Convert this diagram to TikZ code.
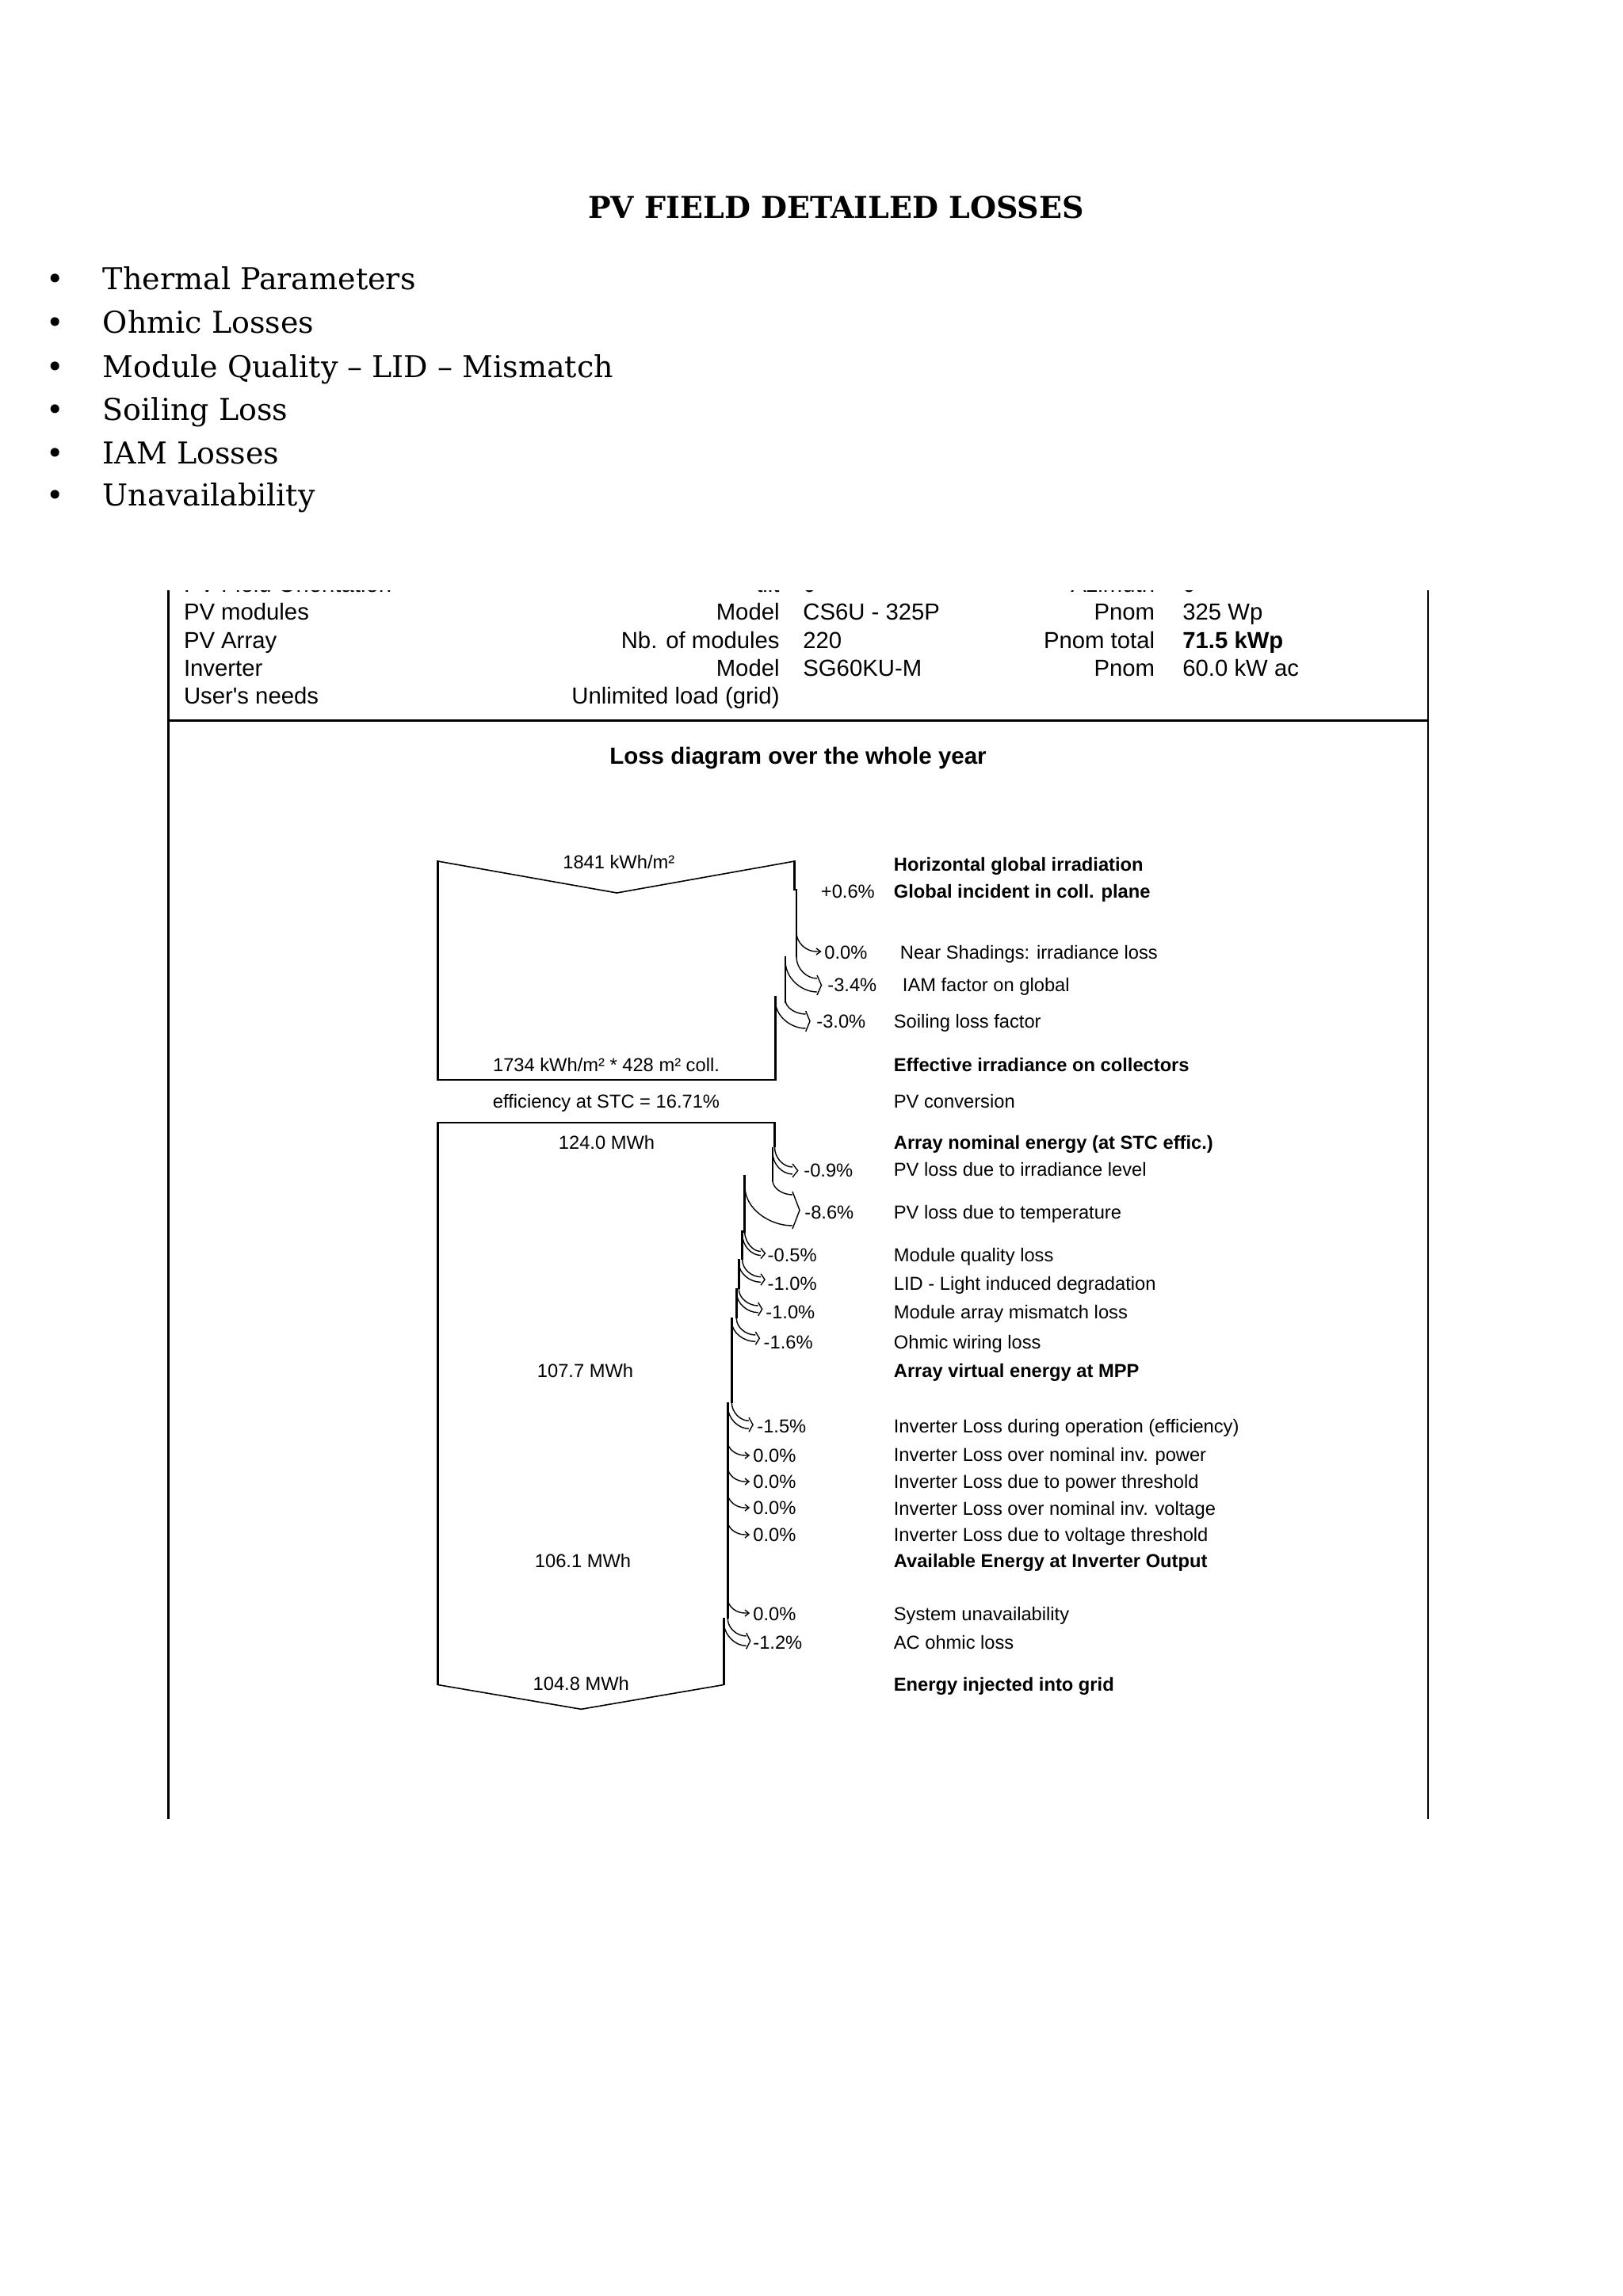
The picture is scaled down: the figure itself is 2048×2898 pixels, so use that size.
\documentclass[tikz,border=0pt]{standalone}
\usepackage{fontspec}
\setmainfont{DejaVu Serif}
\newfontfamily\arialf{Liberation Sans}
\newcommand\fdiag{\arialf\fontsize{11.85}{14}\selectfont}
\newcommand\fhead{\arialf\fontsize{14.65}{17}\selectfont}
\newcommand\fttl{\arialf\bfseries\fontsize{14.75}{17}\selectfont}
\newcommand\fdoc{\fontsize{19}{23}\selectfont}
\newcommand\lossband[8]{%
  \draw[flow] (#1,#2) .. controls (#1,{#2+0.55*(#6-#2)}) and ({#5-0.5*(#5-#1)},#6) .. (#5,#6);
  \draw[flow] (#3,#4) .. controls (#3,{#4+0.55*(#7-#4)}) and ({#5-0.5*(#5-#3)},#7) .. (#5,#7);
  \draw[flow] (#5,{#6-4}) -- (#8,{(#6+#7)/2}) -- (#5,{#7+4});
}
\newcommand\losszero[5]{%
  \draw[flow] (#1,#2) .. controls (#1,{#2+0.55*(#4-#2)}) and ({#3-0.5*(#3-#1)},#4) .. (#3,#4) -- (#5,#4);
  \draw[flow] (#3,{#4-4}) -- (#5,#4) -- (#3,{#4+4});
}
\begin{document}
\begin{tikzpicture}[x=0.5pt,y=-0.5pt,
  lbl/.style={anchor=base west,inner sep=0pt,font=\fdiag},
  blbl/.style={anchor=base west,inner sep=0pt,font=\fdiag\bfseries},
  val/.style={anchor=base,inner sep=0pt,font=\fdiag},
  hl/.style={anchor=base west,inner sep=0pt,font=\fhead},
  hr/.style={anchor=base east,inner sep=0pt,font=\fhead},
  doc/.style={anchor=base west,inner sep=0pt,font=\fdoc},
  frame/.style={line width=1.1pt},
  edge/.style={line width=1.4pt},
  vedge/.style={line width=0.8pt},
  flow/.style={line width=0.7pt}]
\useasboundingbox (0,0) rectangle (2048,2898);
\fill[white] (0,0) rectangle (2048,2898);

% ---- document text
\node[anchor=base,inner sep=0pt,font=\fdoc\bfseries] (title) at (1055,275) {PV FIELD DETAILED LOSSES};
\foreach \yy/\txt [count=\i] in {365.5/Thermal Parameters,420/Ohmic Losses,476/Module Quality – LID – Mismatch,530.7/Soiling Loss,585/IAM Losses,638/Unavailability}{
  \node[anchor=base,inner sep=0pt,font=\fdoc] (bul\i) at (70,\yy) {•};
  \node[doc] (item\i) at (129.5,\yy) {\txt};
}

% ---- frame
\draw[frame] (212.5,745) -- (212.5,2296);
\draw[frame] (1802,745) -- (1802,2296);
\draw[line width=1.5pt] (212.5,909) -- (1802,909);

% ---- header table (cut first row)
\begin{scope}
\clip (214,745.5) rectangle (1800,770);
\node[hl] (h0a) at (231.6,747) {PV Field Orientation};
\node[hr] (h0b) at (984,747) {tilt};
\node[hl] (h0c) at (1013,747) {0};
\node[hr] (h0d) at (1457.5,747) {Azimuth};
\node[hl] (h0e) at (1492,747) {0°};
\end{scope}
\node[hl] (h1a) at (231.6,782.5) {PV modules};
\node[hr] (h1b) at (984,782.5) {Model};
\node[hl] (h1c) at (1013,782.5) {CS6U - 325P};
\node[hr] (h1d) at (1457.5,782.5) {Pnom};
\node[hl] (h1e) at (1492,782.5) {325 Wp};
\node[hl] (h2a) at (231.6,818.5) {PV Array};
\node[hr] (h2b) at (984,818.5) {Nb. of modules};
\node[hl] (h2c) at (1013,818.5) {220};
\node[hr] (h2d) at (1457.5,818.5) {Pnom total};
\node[hl,font=\fhead\bfseries] (h2e) at (1492,818.5) {71.5 kWp};
\node[hl] (h3a) at (231.6,853.5) {Inverter};
\node[hr] (h3b) at (984,853.5) {Model};
\node[hl] (h3c) at (1013,853.5) {SG60KU-M};
\node[hr] (h3d) at (1457.5,853.5) {Pnom};
\node[hl] (h3e) at (1492,853.5) {60.0 kW ac};
\node[hl] (h4a) at (231.6,888.5) {User's needs};
\node[hr] (h4b) at (984,888.5) {Unlimited load (grid)};

\node[anchor=base,inner sep=0pt,font=\fttl] (ldtitle) at (1007,964.5) {Loss diagram over the whole year};

% ---- box 1
\draw[vedge] (552.5,1087) -- (778.3,1127) -- (1002.7,1087);
\draw[edge] (552.5,1086.3) -- (552.5,1363) -- (978.3,1363) -- (978.3,1257);
\draw[edge] (1002.7,1086.3) -- (1002.7,1123) -- (1005,1123) -- (1005,1208);
\draw[edge] (991,1207) -- (991,1266);
\losszero{1005}{1177}{1030}{1201}{1035.5}
\lossband{1005}{1208}{991}{1213}{1031}{1235}{1252}{1036.5}
\lossband{991}{1262}{978.3}{1263}{1016.7}{1280}{1298}{1022}

% ---- box 2
\draw[edge] (552.5,2126.5) -- (552.5,1417) -- (977.5,1417) -- (977.5,1448);
\draw[edge] (975,1448) -- (975,1492);
\draw[edge] (939.5,1483) -- (939.5,1556);
\draw[edge] (936.7,1553) -- (936.7,1590);
\draw[edge] (932.3,1589) -- (932.3,1627);
\draw[edge] (929.3,1626) -- (929.3,1664);
\draw[edge] (923.3,1663) -- (923.3,1771);
\draw[edge] (918.3,1770) -- (918.3,2043);
\draw[edge] (913.3,2042) -- (913.3,2127.2);
\draw[vedge] (552.5,2126.5) -- (733.3,2157.3) -- (913.3,2126.5);
\lossband{977.5}{1448}{975}{1455}{1000}{1473}{1482}{1006.7}
\lossband{975}{1490}{940}{1498}{1000}{1508}{1547}{1009}
\lossband{939.5}{1553}{936.7}{1558}{960}{1579.5}{1584.5}{965.5}
\lossband{936.7}{1590}{932.3}{1594}{960}{1611.7}{1618.3}{965}
\lossband{932.3}{1627}{929.3}{1631}{956.7}{1648}{1656.7}{961.7}
\lossband{929.3}{1664}{923.3}{1668}{953.3}{1685}{1693.3}{958.3}
\lossband{923.3}{1770}{918.3}{1775}{945}{1793.3}{1803.3}{950}
\losszero{918.3}{1820}{940}{1837}{945}
\losszero{918.3}{1852}{940}{1870}{945}
\losszero{918.3}{1885}{940}{1903}{945}
\losszero{918.3}{1920}{940}{1937}{945}
\losszero{918.3}{2018}{940}{2036}{945}
\lossband{918.3}{2043}{913.3}{2047}{941.7}{2065}{2077.3}{946.7}

% ---- left values
\node[val] (v1) at (780.8,1096.5) {1841 kWh/m²};
\node[val] (v2) at (765,1352.5) {1734 kWh/m² * 428 m² coll.};
\node[val] (v3) at (765,1398.5) {efficiency at STC = 16.71\%};
\node[val] (v4) at (765.5,1450) {124.0 MWh};
\node[val] (v5) at (738.5,1738.5) {107.7 MWh};
\node[val] (v6) at (735.5,1978.5) {106.1 MWh};
\node[val] (v7) at (733.3,2133.5) {104.8 MWh};

% ---- percentages
\node[lbl] (p1) at (1035.5,1133) {+0.6\%};
\node[lbl] (p2) at (1040,1210) {0.0\%};
\node[lbl] (p3) at (1044,1251.5) {-3.4\%};
\node[lbl] (p4) at (1030,1297.5) {-3.0\%};
\node[lbl] (p5) at (1014,1485) {-0.9\%};
\node[lbl] (p6) at (1015,1538) {-8.6\%};
\node[lbl] (p7) at (968.3,1592.5) {-0.5\%};
\node[lbl] (p8) at (968.3,1628) {-1.0\%};
\node[lbl] (p9) at (966,1664.5) {-1.0\%};
\node[lbl] (p10) at (963.3,1702) {-1.6\%};
\node[lbl] (p11) at (955,1808.5) {-1.5\%};
\node[lbl] (p12) at (950,1845.5) {0.0\%};
\node[lbl] (p13) at (950,1878.5) {0.0\%};
\node[lbl] (p14) at (950,1911.5) {0.0\%};
\node[lbl] (p15) at (950,1945) {0.0\%};
\node[lbl] (p16) at (950,2045) {0.0\%};
\node[lbl] (p17) at (950,2081.5) {-1.2\%};

% ---- right labels
\node[blbl] (r1) at (1127.5,1099.5) {Horizontal global irradiation};
\node[blbl] (r2) at (1127.5,1133) {Global incident in coll. plane};
\node[lbl] (r3) at (1135.5,1210) {Near Shadings: irradiance loss};
\node[lbl] (r4) at (1138.5,1251.5) {IAM factor on global};
\node[lbl] (r5) at (1127.5,1297.5) {Soiling loss factor};
\node[blbl] (r6) at (1127.5,1352.5) {Effective irradiance on collectors};
\node[lbl] (r7) at (1127.5,1398.5) {PV conversion};
\node[blbl] (r8) at (1127.5,1450) {Array nominal energy (at STC effic.)};
\node[lbl] (r9) at (1127.5,1484.5) {PV loss due to irradiance level};
\node[lbl] (r10) at (1127.5,1538) {PV loss due to temperature};
\node[lbl] (r11) at (1127.5,1592.5) {Module quality loss};
\node[lbl] (r12) at (1127.5,1628) {LID - Light induced degradation};
\node[lbl] (r13) at (1127.5,1664.5) {Module array mismatch loss};
\node[lbl] (r14) at (1127.5,1702) {Ohmic wiring loss};
\node[blbl] (r15) at (1127.5,1738.5) {Array virtual energy at MPP};
\node[lbl] (r16) at (1127.5,1808.5) {Inverter Loss during operation (efficiency)};
\node[lbl] (r17) at (1127.5,1844.5) {Inverter Loss over nominal inv. power};
\node[lbl] (r18) at (1127.5,1878) {Inverter Loss due to power threshold};
\node[lbl] (r19) at (1127.5,1912) {Inverter Loss over nominal inv. voltage};
\node[lbl] (r20) at (1127.5,1945.5) {Inverter Loss due to voltage threshold};
\node[blbl] (r21) at (1127.5,1978.5) {Available Energy at Inverter Output};
\node[lbl] (r22) at (1127.5,2045.5) {System unavailability};
\node[lbl] (r23) at (1127.5,2081) {AC ohmic loss};
\node[blbl] (r24) at (1127.5,2134) {Energy injected into grid};
\end{tikzpicture}
\end{document}
